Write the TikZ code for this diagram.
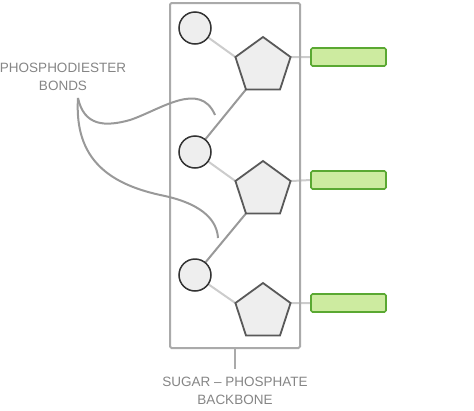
\documentclass[tikz,border=0pt]{standalone}
\usepackage{fontspec}
\setmainfont{Liberation Sans}
\usetikzlibrary{shapes.geometric,backgrounds}
\definecolor{boxgrey}{HTML}{AAAAAA}
\definecolor{txtgrey}{HTML}{858585}
\definecolor{fillgrey}{HTML}{EEEEEE}
\definecolor{linklight}{HTML}{CCCCCC}
\definecolor{bondgrey}{HTML}{999999}
\definecolor{basefill}{HTML}{CDEBA0}
\definecolor{baseline}{HTML}{5AA832}
\tikzset{
  phos/.style={circle, draw=black!80, fill=fillgrey, line width=1.5pt, minimum size=32pt, inner sep=0pt, outer sep=0pt},
  sugar/.style={regular polygon, regular polygon sides=5, draw=black!65, fill=fillgrey, line width=1.8pt, minimum size=58pt, inner sep=0pt, outer sep=0pt},
  basebox/.style={rectangle, rounded corners=1.5pt, draw=baseline, fill=basefill, line width=1.6pt, minimum width=75pt, minimum height=18pt, inner sep=0pt, outer sep=0pt},
  lightlink/.style={draw=linklight, line width=2pt},
  bond/.style={draw=bondgrey, line width=2pt},
  callout/.style={draw=bondgrey, line width=2pt},
  lbl/.style={text=txtgrey, font=\fontsize{13.5}{18}\selectfont, align=center, inner sep=0pt}
}
\begin{document}
\begin{tikzpicture}[x=1pt, y=-1pt]
\useasboundingbox (0,0) rectangle (474,410);
% backbone box
\node[draw=boxgrey, line width=2pt, rounded corners=1.5pt, minimum width=130pt, minimum height=345pt, inner sep=0pt, outer sep=0pt] (box) at (235,175.5) {};
% phosphates
\node[phos] (p1) at (195,28) {};
\node[phos] (p2) at (195,152) {};
\node[phos] (p3) at (195,275) {};
% sugars
\node[sugar] (s1) at (263,66) {};
\node[sugar] (s2) at (263,190) {};
\node[sugar] (s3) at (263,312) {};
% bases
\node[basebox] (b1) at (348.5,57) {};
\node[basebox] (b2) at (348.5,180) {};
\node[basebox] (b3) at (348.5,303) {};
% labels
\node[lbl] (pdlabel) at (63,77) {PHOSPHODIESTER\\BONDS};
\node[lbl] (bblabel) at (235,391) {SUGAR – PHOSPHATE\\BACKBONE};
\coordinate (pdstart) at (78,98);
\coordinate (pdend1) at (215,115);
\coordinate (pdend2) at (218,238);
\begin{pgfonlayer}{background}
\draw[lightlink] (p1) -- (s1.corner 2);
\draw[lightlink] (p2) -- (s2.corner 2);
\draw[lightlink] (p3) -- (s3.corner 2);
\draw[lightlink] (s1.corner 5) -- (b1.west);
\draw[lightlink] (s2.corner 5) -- (b2.west);
\draw[lightlink] (s3.corner 5) -- (b3.west);
\draw[bond] (s1.corner 3) -- (p2);
\draw[bond] (s2.corner 3) -- (p3);
\end{pgfonlayer}
\draw[callout] (pdstart) .. controls (84,126) and (105,127) .. (130,120) .. controls (160,110) and (200,80) .. (pdend1);
\draw[callout] (pdstart) .. controls (74,160) and (110,185) .. (165,196) .. controls (205,205) and (217,222) .. (pdend2);
\draw[draw=boxgrey, line width=2pt] (box.south) -- (235,369);
\end{tikzpicture}
\end{document}
